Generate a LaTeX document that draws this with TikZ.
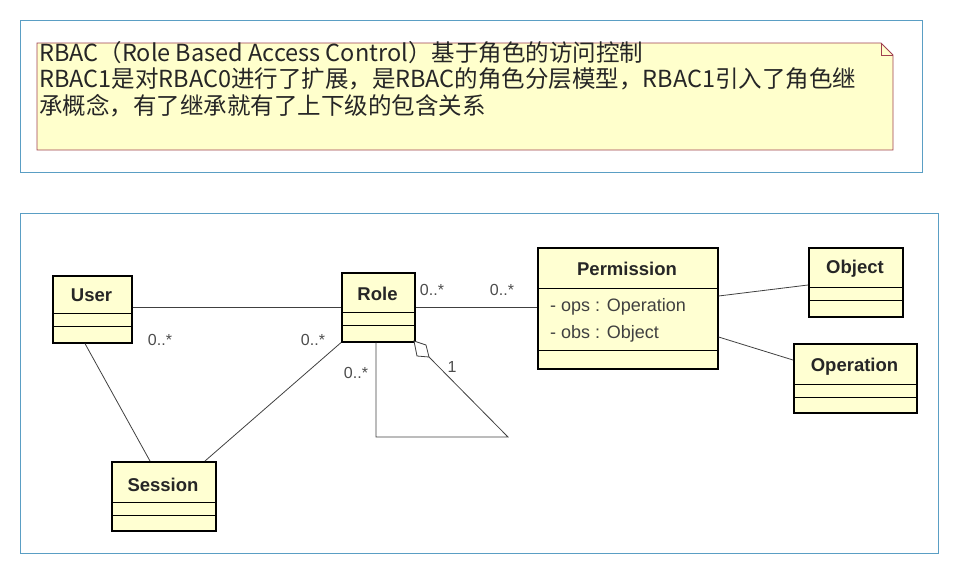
\documentclass[tikz,border=0pt]{standalone}
\usepackage{fontspec}
\setmainfont{Liberation Sans}
\newfontfamily\cjk{Noto Sans CJK SC}
\usetikzlibrary{calc}
\definecolor{frameblue}{HTML}{5A9EC4}
\definecolor{umlfill}{HTML}{FFFFD2}
\definecolor{notefill}{HTML}{FFFFCC}
\definecolor{noteline}{HTML}{A04050}
\tikzset{
  frame/.style={draw=frameblue,line width=1pt},
  cls/.style={draw=black,line width=1.6pt,fill=umlfill,inner sep=0pt},
  cname/.style={font=\bfseries\fontsize{18.5}{18.5}\selectfont,text=black!85},
  attr/.style={anchor=west,font=\fontsize{18}{18}\selectfont,text=black!75,inner sep=0pt},
  conn/.style={draw=black!75,line width=0.8pt},
  mult/.style={font=\fontsize{16}{16}\selectfont,text=black!70},
}
\begin{document}
\begin{tikzpicture}[x=1pt,y=-1pt]
\useasboundingbox (0,0) rectangle (953,560);
\node[frame,minimum width=902,minimum height=152,anchor=north west] (f1) at (20,20) {};
\node[frame,minimum width=918,minimum height=340,anchor=north west] (f2) at (20,213) {};
% note
\draw[draw=noteline,fill=notefill,line width=0.8pt] (37,43) -- (881,43) -- (893,55) -- (893,150) -- (37,150) -- cycle;
\draw[draw=noteline,line width=0.6pt] (881,43) -- (881,55) -- (893,55);
\node[anchor=north west,align=left,inner sep=0pt,font=\cjk\fontsize{23.5}{26.5}\selectfont,text=black!85] (note) at (39,41)
 {RBAC（Role Based Access Control）基于角色的访问控制\\
  RBAC1是对RBAC0进行了扩展，是RBAC的角色分层模型，RBAC1引入了角色继\\
  承概念，有了继承就有了上下级的包含关系};
% classes
\node[cls,minimum width=79,minimum height=67,anchor=north west] (user) at (52,275) {};
\node[cname] at (91.5,295) {User};
\draw[line width=0.8pt] (52,313) -- (131,313); \draw[line width=0.8pt] (52,326) -- (131,326);

\node[cls,minimum width=73,minimum height=69,anchor=north west] (role) at (341,272) {};
\node[cname] at (377.5,294) {Role};
\draw[line width=0.8pt] (341,312) -- (414,312); \draw[line width=0.8pt] (341,325) -- (414,325);

\node[cls,minimum width=180,minimum height=121,anchor=north west] (perm) at (537,247) {};
\node[cname] at (627,269) {Permission};
\draw[line width=0.8pt] (537,288) -- (717,288); \draw[line width=0.8pt] (537,350) -- (717,350);
\node[attr] (a1) at (550,307) {- ops : Operation};
\node[attr] (a2) at (550,334) {- obs : Object};

\node[cls,minimum width=94,minimum height=69,anchor=north west] (obj) at (808,247) {};
\node[cname] at (855,269) {Object};
\draw[line width=0.8pt] (808,287) -- (902,287); \draw[line width=0.8pt] (808,300) -- (902,300);

\node[cls,minimum width=123,minimum height=69,anchor=north west] (op) at (793,343) {};
\node[cname] at (854.5,367) {Operation};
\draw[line width=0.8pt] (793,384) -- (916,384); \draw[line width=0.8pt] (793,397) -- (916,397);

\node[cls,minimum width=104,minimum height=69,anchor=north west] (sess) at (111,461) {};
\node[cname] at (163,485) {Session};
\draw[line width=0.8pt] (111,502) -- (215,502); \draw[line width=0.8pt] (111,515) -- (215,515);
% connectors
\draw[conn] (user.east |- 0,307) -- (role.west |- 0,307);
\draw[conn] (role.east |- 0,307) -- (perm.west |- 0,307);
\draw[conn] ($(perm.north east)+(0,49)$) -- ($(obj.north west)+(0,38)$);
\draw[conn] ($(perm.north east)+(0,90)$) -- ($(op.north west)+(0,17)$);
\draw[conn] ($(user.south west)+(33,0)$) -- ($(sess.north west)+(39,0)$);
\draw[conn] ($(sess.north west)+(94,0)$) -- (role.south west);
\coordinate (d1) at (414,341);
\coordinate (d2) at (429,357);
\coordinate (c1) at (508,437);
\coordinate (c2) at (376,437);
\draw[conn,fill=white] (d1) -- (426,345) -- (d2) -- (417,356) -- cycle;
\draw[conn] (d2) -- (c1) -- (c2) -- (role.south -| c2);
% multiplicities
\node[mult] (m1) at (160,340) {0..*};
\node[mult] (m2) at (313,340) {0..*};
\node[mult] (m3) at (432,290) {0..*};
\node[mult] (m4) at (502,290) {0..*};
\node[mult] (m5) at (356,373) {0..*};
\node[mult] (m6) at (452,367) {1};
\end{tikzpicture}
\end{document}
